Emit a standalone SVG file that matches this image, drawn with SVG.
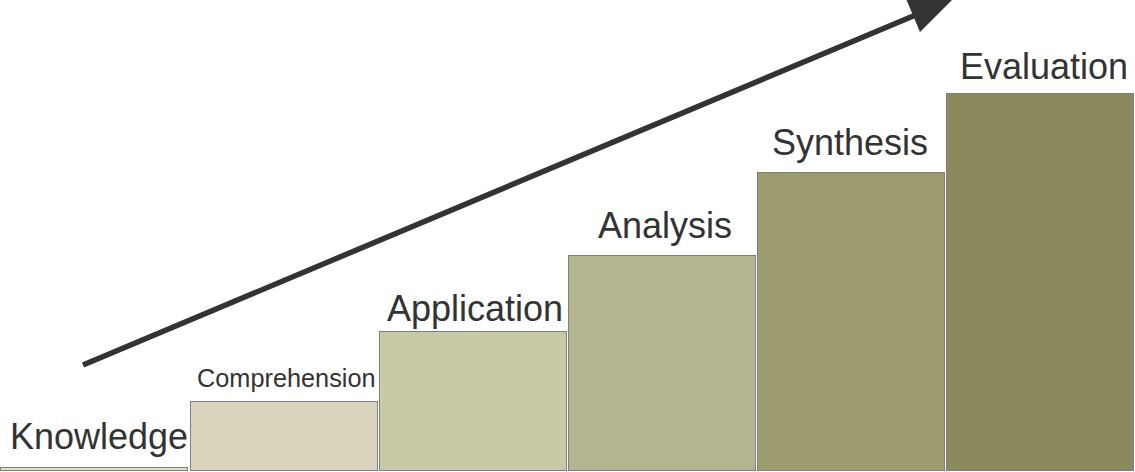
<svg xmlns="http://www.w3.org/2000/svg" width="1135" height="472" viewBox="0 0 1135 472">
<style>
.step{stroke:#7f7f7f;stroke-width:1}
.lbl{font-family:"Liberation Sans",Arial,sans-serif;font-size:36px;fill:#333333}
.small{font-size:25.3px}
</style>
<rect width="1135" height="472" fill="#ffffff"/>
<g id="knowledge">
<rect class="step" x="0.5" y="467.5" width="187" height="3" fill="#e3dfc9"/>
<text class="lbl" x="10" y="449">Knowledge</text>
</g>
<g id="comprehension">
<rect class="step" x="190.5" y="401.5" width="187" height="69" fill="#d9d4bb"/>
<text class="lbl small" x="197" y="387">Comprehension</text>
</g>
<g id="application">
<rect class="step" x="379.5" y="331.5" width="187" height="139" fill="#c8c9a7"/>
<text class="lbl" x="387" y="321">Application</text>
</g>
<g id="analysis">
<rect class="step" x="568.5" y="255.5" width="187" height="215" fill="#b3b58e"/>
<text class="lbl" x="598" y="238">Analysis</text>
</g>
<g id="synthesis">
<rect class="step" x="757.5" y="172.5" width="187" height="298" fill="#9c9c6e"/>
<text class="lbl" x="772" y="155">Synthesis</text>
</g>
<g id="evaluation">
<rect class="step" x="946.5" y="93.5" width="187" height="377" fill="#8a8a5c"/>
<text class="lbl" x="960" y="79">Evaluation</text>
</g>
<g id="connectors">
<line x1="83" y1="365" x2="918" y2="14" stroke="#333333" stroke-width="5.5"/>
<polygon points="953,-1 906.4,-0.4 920,32" fill="#333333"/>
</g>
</svg>
